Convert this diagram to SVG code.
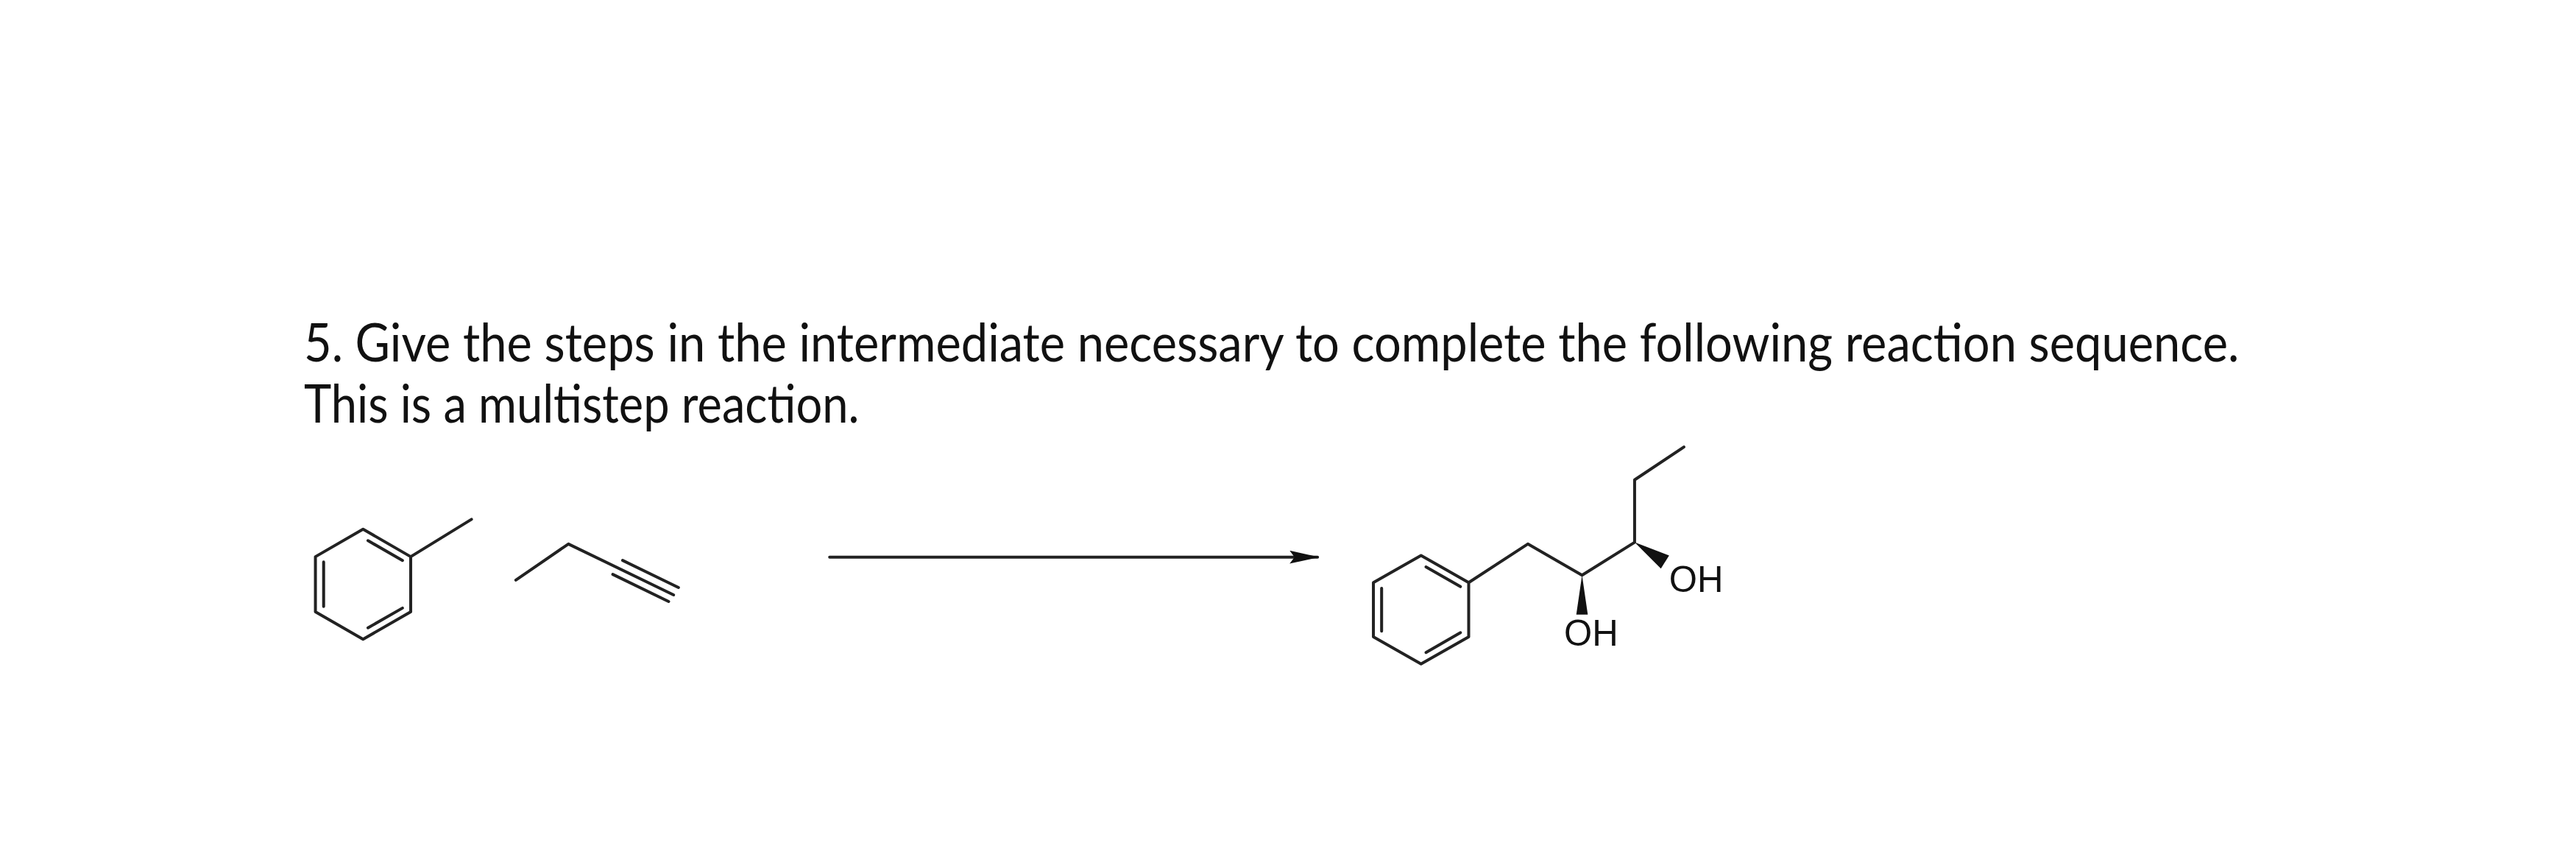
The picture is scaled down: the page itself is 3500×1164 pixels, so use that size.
<svg xmlns="http://www.w3.org/2000/svg" width="3500" height="1164" viewBox="0 0 3500 1164">
<style>
.b{stroke:#222;stroke-width:1.8;fill:none;stroke-linecap:round;stroke-linejoin:round}
.t{font-family:Lato,"Open Sans","Liberation Sans",sans-serif;font-size:32px;fill:#111}
.a{font-family:"Liberation Sans",Arial,sans-serif;font-size:22px;fill:#111}
</style>
<defs><marker id="ah" markerWidth="18" markerHeight="8" refX="17" refY="4" orient="auto" markerUnits="userSpaceOnUse"><path d="M0,0 L18,4 L0,8 L3,4 Z" fill="#111"/></marker></defs>
<rect width="3500" height="1164" fill="#fff"/>
<g transform="scale(2.2321)">
<g id="question">
<text class="t" x="185" y="220" textLength="1178" lengthAdjust="spacingAndGlyphs">5. Give the steps in the intermediate necessary to complete the following reaction sequence.</text>
<text class="t" x="185" y="257" textLength="338" lengthAdjust="spacingAndGlyphs">This is a multistep reaction.</text>
</g>
<g id="toluene">
<path class="b" d="M221,322 L250,338.75 L250,372.25 L221,389 L192,372.25 L192,338.75 Z M250,338.75 L287,316"/>
<path class="b" d="M224,329 L245,341 M197,342 L197,369 M224,382 L245,370"/>
</g>
<g id="butyne">
<path class="b" d="M314,353 L346,331 L410,362 M379,341 L413,357.5 M373,349.5 L407,366"/>
</g>
<g id="connectors">
<path class="b" d="M505,339 L802,339" marker-end="url(#ah)"/>
</g>
<g id="product">
<path class="b" d="M865,338 L894,354.5 L894,387.5 L865,404 L836,387.5 L836,354.5 Z M894,354.5 L930,331 L963,350 L995,330 L995,292 L1025,272"/>
<path class="b" d="M868,345 L889,357 M841,358 L841,384 M868,397 L889,385"/>
<path d="M963,350 L959.5,374 L966.5,374 Z" fill="#111"/>
<path d="M995,330 L1011,346 L1016,338 Z" fill="#111"/>
<text class="a" x="952" y="393">OH</text>
<text class="a" x="1016" y="360">OH</text>
</g>
</g>
</svg>
